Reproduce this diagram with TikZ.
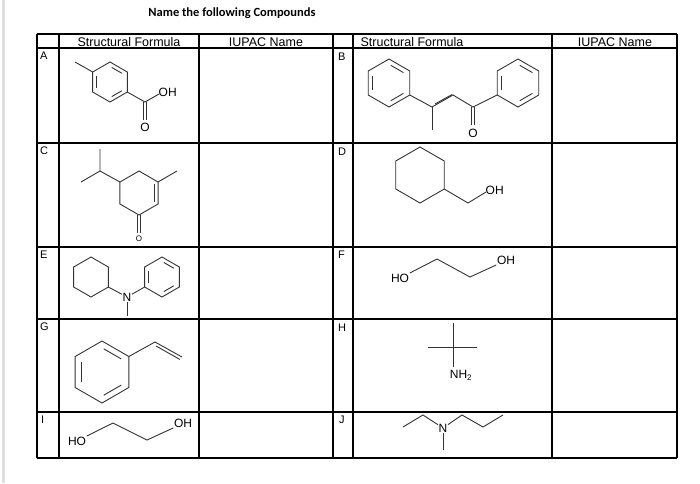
\documentclass[tikz,border=0pt]{standalone}
\usepackage{fontspec}
\setmainfont{Liberation Sans}
\newfontfamily\titlefont{Carlito}
\usetikzlibrary{calc}
\newcommand\hexring[4]{\begin{scope}[shift={(#1,#2)}]\draw[bond] (#4:#3) -- (#4+60:#3) -- (#4+120:#3) -- (#4+180:#3) -- (#4+240:#3) -- (#4+300:#3) -- cycle;\end{scope}}
\newcommand\arom[4]{\begin{scope}[shift={(#1,#2)}]\foreach \a in {0,120,240}{\draw[bond,shorten <=2pt,shorten >=2pt] (#4+\a:{0.78*#3}) -- (#4+\a+60:{0.78*#3});}\end{scope}}
\begin{document}
\begin{tikzpicture}[x=1pt,y=-1pt,
  bond/.style={draw=black!80,line width=0.9pt},
  grid/.style={draw=black,line width=1.1pt},
  atom/.style={inner sep=0.5pt,font=\fontsize{12}{14}\selectfont},
  hdr/.style={inner sep=0pt,font=\fontsize{12.5}{14}\selectfont},
  lbl/.style={inner sep=0pt,anchor=north west,font=\fontsize{11}{13}\selectfont}]
\useasboundingbox (0,0) rectangle (700,483);
\fill[black!12] (2,0) rectangle (5,483);
\node[font=\titlefont\bfseries\fontsize{12.5}{14}\selectfont] (title) at (232,13) {Name the following Compounds};
% grid
\foreach \x in {37,59,199,333,353,552,677}{\draw[grid] (\x,34) -- (\x,458);}
\foreach \y in {34,48,143,247,319,412,458}{\draw[grid] (37,\y) -- (677,\y);}
\node[hdr] (h1) at (129,42) {Structural Formula};
\node[hdr] (h2) at (266,42) {IUPAC Name};
\node[hdr] (h3) at (412,42) {Structural Formula};
\node[hdr] (h4) at (615,42) {IUPAC Name};
\node[lbl] (lA) at (40,52) {A};
\node[lbl] (lB) at (338,53) {B};
\node[lbl] (lC) at (40,147) {C};
\node[lbl] (lD) at (338,148) {D};
\node[lbl] (lE) at (40,251) {E};
\node[lbl] (lF) at (338,251) {F};
\node[lbl] (lG) at (40,323) {G};
\node[lbl] (lH) at (338,324) {H};
\node[lbl] (lI) at (41,416) {I};
\node[lbl] (lJ) at (339,416) {J};
% A
\hexring{110}{82}{20}{30}\arom{110}{82}{20}{30}
\draw[bond] (92.7,72) -- (75,62);
\draw[bond] (127.3,92) -- (145,102) -- (159,94);
\draw[bond] (143.5,102) -- (143.5,120) (146.5,102) -- (146.5,120);
\node[atom,anchor=west] (aOH) at (158,92) {OH};
\node[atom] (aO) at (145,127) {O};
% B
\hexring{389}{83}{24}{30}\arom{389}{83}{24}{30}
\hexring{518}{83}{24}{30}\arom{518}{83}{24}{30}
\draw[bond] (409.8,95) -- (432,107) -- (453,95) -- (473,107) -- (497.2,95);
\draw[bond] (432,107) -- (432,130);
\draw[bond] (435,104) -- (452,94.5);
\draw[bond] (471.5,107) -- (471.5,125) (474.5,107) -- (474.5,125);
\node[atom] (bO) at (473,133) {O};
% C
\hexring{139}{193}{22}{30}
\draw[bond] (154.5,184) -- (154.5,202);
\draw[bond] (120,182) -- (100,171) -- (100,149) (100,171) -- (81,182);
\draw[bond] (158,182) -- (177,171);
\draw[bond] (137.8,215) -- (137.8,233) (140.2,215) -- (140.2,233);
\node[atom,font=\fontsize{8}{9}\selectfont] (cO) at (139,239) {O};
% D
\hexring{420}{175}{28}{30}
\draw[bond] (444.2,189) -- (468,203) -- (486,192);
\node[atom,anchor=west] (dOH) at (485,190) {OH};
% E
\hexring{91}{277}{20}{30}
\hexring{162}{277}{20}{30}\arom{162}{277}{20}{30}
\node[atom] (eN) at (127,297) {N};
\draw[bond] (108.3,287) -- (eN);
\draw[bond] (eN) -- (144.7,287);
\draw[bond] (eN) -- (127,316);
% G
\hexring{102}{372}{31}{30}\arom{102}{372}{31}{30}
\draw[bond] (128.8,356.5) -- (155,342) -- (182,357);
\draw[bond] (156,346) -- (180,359.5);
% I
\node[atom] (iHO) at (77,441) {HO};
\node[atom] (iOH) at (183,423) {OH};
\draw[bond] (iHO.north east) -- (113,423) -- (147,440) -- (iOH.south west);
% F
\node[atom] (fHO) at (400,278) {HO};
\node[atom] (fOH) at (506,260) {OH};
\draw[bond] (fHO.north east) -- (437,259) -- (470,277) -- (fOH.south west);
% H
\draw[bond] (453,323) -- (453,367) (428,347) -- (477,347);
\node[atom] (hN) at (461,375) {NH\textsubscript{2}};
% J
\node[atom] (jN) at (443,428) {N};
\draw[bond] (403,427) -- (423,415) -- (jN) -- (462,415) -- (483,427) -- (503,415);
\draw[bond] (jN) -- (443,450);
\end{tikzpicture}
\end{document}
